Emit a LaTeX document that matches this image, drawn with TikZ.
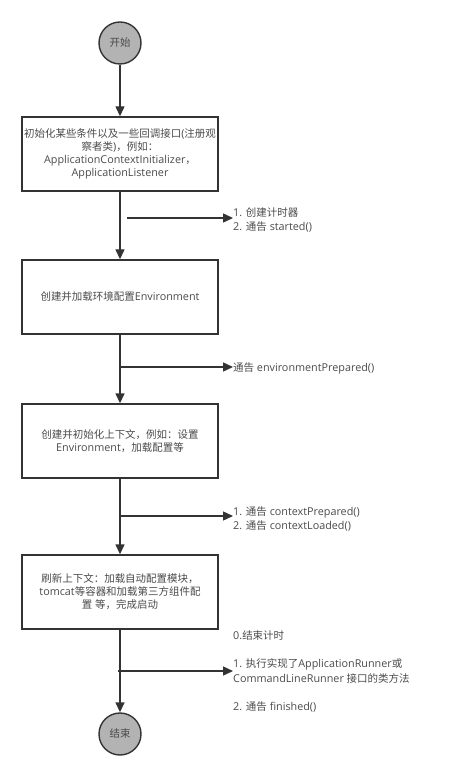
\documentclass[tikz,border=0pt]{standalone}
\usepackage{fontspec}
\setmainfont{Open Sans}
\newfontfamily\cjkfont{Noto Sans CJK SC}[Scale=0.97]
\usetikzlibrary{arrows.meta}
\definecolor{linegray}{HTML}{333333}
\definecolor{textgray}{HTML}{4A4A4A}
\definecolor{endfill}{HTML}{B3B3B3}

% han characters and full-width signs in the CJK family, the rest in Open Sans
\newXeTeXintercharclass\hanclass
\count255="3000
\loop
  \XeTeXcharclass\count255=\hanclass
  \ifnum\count255<"9FFF \advance\count255 by 1 \repeat
\count255="FF00
\loop
  \XeTeXcharclass\count255=\hanclass
  \ifnum\count255<"FFEF \advance\count255 by 1 \repeat
\XeTeXinterchartokenstate=1
\XeTeXinterchartoks 0 \hanclass = {\cjkfont}
\XeTeXinterchartoks 4095 \hanclass = {\cjkfont}
\XeTeXinterchartoks \hanclass 0 = {\rmfamily}
\XeTeXinterchartoks \hanclass 4095 = {\rmfamily}

\begin{document}
\begin{tikzpicture}
[
    x=1pt, y=-1pt,
    every node/.style={font=\fontsize{10.8}{13}\selectfont, text=textgray},
    terminal/.style={circle, draw=linegray, line width=1.4pt, fill=endfill, minimum size=42pt, inner sep=0pt},
    stepbox/.style={draw=linegray, line width=1.4pt, minimum width=196pt, minimum height=74pt, align=center, inner sep=1pt},
    note/.style={anchor=west, align=left, inner sep=0pt, font=\fontsize{10.8}{14.2}\selectfont},
    flow/.style={draw=linegray, line width=1.4pt, -{Triangle[length=10pt,width=9pt]}},
]
\useasboundingbox (0,0) rectangle (474,775);

\node [terminal] (start) at (120,43) {开始};
\node [stepbox] (init) at (120,154)
{初始化某些条件以及一些回调接口(注册观\\察者类)，例如：\\ApplicationContextInitializer，\\ApplicationListener};
\node [stepbox] (env) at (120,297) {创建并加载环境配置Environment};
\node [stepbox] (ctx) at (120,441)
{创建并初始化上下文，例如：设置\\Environment，加载配置等};
\node [stepbox] (refresh) at (120,592)
{刷新上下文：加载自动配置模块，\\tomcat等容器和加载第三方组件配\\置 等，完成启动};
\node [terminal] (finish) at (120,734) {结束};

\node [note] (startedNote) at (233,220) {1. 创建计时器\\2. 通告 started()};
\node [note] (envNote) at (233,368) {通告 environmentPrepared()};
\node [note] (ctxNote) at (233,519) {1. 通告 contextPrepared()\\2. 通告 contextLoaded()};
\node [note] (finishNote) at (233,671.5)
{0.结束计时\\ \\1. 执行实现了ApplicationRunner或\\CommandLineRunner 接口的类方法\\ \\2. 通告 finished()};

\coordinate (startedFrom) at (127,218);
\coordinate (envFrom) at (120,367);
\coordinate (ctxFrom) at (120,516);
\coordinate (finishFrom) at (118,671);

\draw [flow] (start) -- (init);
\draw [flow] (init) -- (env);
\draw [flow] (env) -- (ctx);
\draw [flow] (ctx) -- (refresh);
\draw [flow] (refresh) -- (finish);

\draw [flow] (startedFrom) -- (startedFrom -| startedNote.west);
\draw [flow] (envFrom) -- (envFrom -| envNote.west);
\draw [flow] (ctxFrom) -- (ctxFrom -| ctxNote.west);
\draw [flow] (finishFrom) -- (finishFrom -| finishNote.west);
\end{tikzpicture}
\end{document}
